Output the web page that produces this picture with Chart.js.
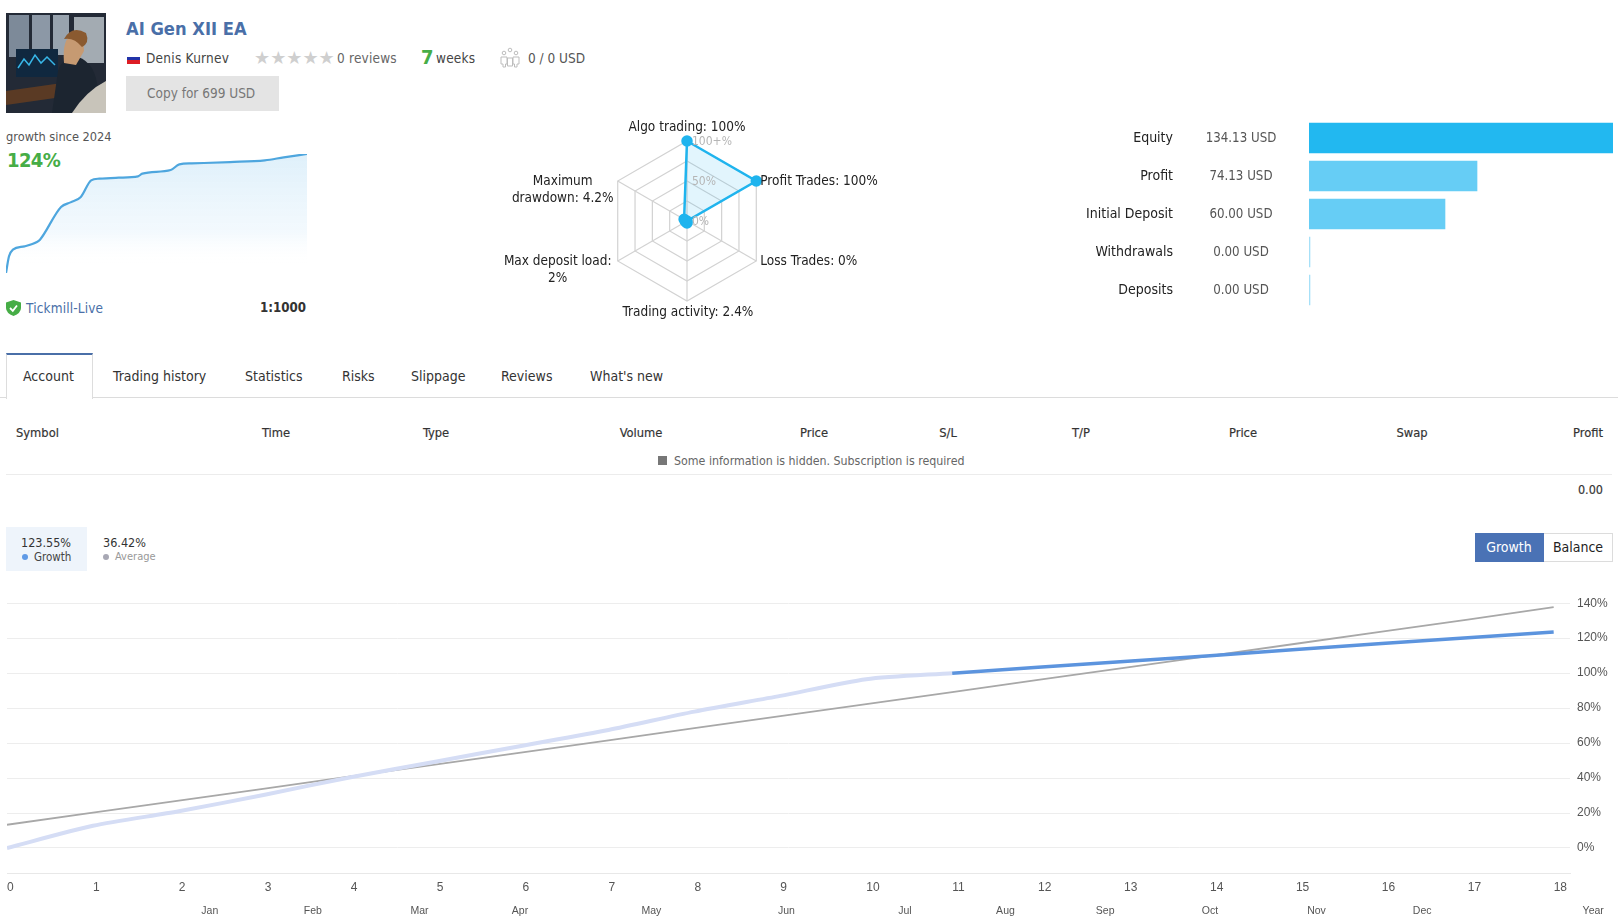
<!DOCTYPE html>
<html>
<head>
<meta charset="utf-8">
<title>AI Gen XII EA</title>
<script src="https://cdn.jsdelivr.net/npm/chart.js@4"></script>
<style>
html, body { margin: 0; padding: 0; background: #fff; }
body { position: relative; width: 1618px; height: 917px; overflow: hidden;
       font-family: "DejaVu Sans Condensed", "DejaVu Sans", sans-serif; font-size: 13.5px; color: #333; }
canvas { position: absolute; }
.t { position: absolute; white-space: nowrap; line-height: 16px; height: 16px; }
.c { transform: translateX(-50%); }
.r { transform: translateX(-100%); }
.head { font-weight: 400; color: #333; font-size: 12.8px; top: 425px; -webkit-text-stroke: 0.18px #333; }
.tab { top: 368px; color: #333; font-size: 14px; }
.box { position: absolute; }
</style>
</head>
<body>

<svg class="box" style="left:6px;top:13px" width="100" height="100" viewBox="0 0 100 100">
  <rect width="100" height="100" fill="#232a36"/>
  <rect x="3" y="2" width="20" height="42" fill="#7d8a99"/>
  <rect x="26" y="2" width="18" height="42" fill="#8c98a6"/>
  <rect x="47" y="2" width="16" height="40" fill="#98a3ae"/>
  <rect x="68" y="4" width="30" height="46" fill="#a3abb2"/>
  <rect x="10" y="36" width="42" height="28" fill="#10283f"/>
  <polyline points="12,55 18,46 23,52 29,42 35,50 41,44 49,52" fill="none" stroke="#38b7e8" stroke-width="1.500"/>
  <path d="M0 78 L56 70 L56 84 L0 92 Z" fill="#5a3a24"/>
  <path d="M46 100 L52 58 Q56 44 72 44 Q90 50 92 78 L92 100 Z" fill="#1c2530"/>
  <path d="M58 50 Q56 26 66 22 Q78 22 78 38 L70 52 Z" fill="#c69a72"/>
  <path d="M58 26 Q66 12 80 20 Q84 30 76 34 Q68 24 58 26 Z" fill="#8a5a30"/>
  <path d="M66 100 Q80 78 100 68 L100 100 Z" fill="#c8c4ba"/>
</svg>

<div class="t" style="left:126px;top:17px;height:24px;line-height:24px;font-size:18.200px;font-weight:700;color:#4a6fa8">AI Gen XII EA</div>
<div class="box" style="left:127px;top:57px;width:13px;height:3px;background:#2233a8"></div>
<div class="box" style="left:127px;top:60px;width:13px;height:4px;background:#dd1c24"></div>
<div class="t" style="left:146px;top:50px;color:#444;letter-spacing:0.25px">Denis Kurnev</div>
<div class="t" style="left:254px;top:50px;font-size:18px;color:#cfcfcf;font-family:'DejaVu Sans'">★★★★★</div>
<div class="t" style="left:337px;top:50px;color:#666;letter-spacing:0.2px">0 reviews</div>
<div class="t" style="left:421px;top:49px;font-size:20px;font-weight:700;color:#46ad46">7</div>
<div class="t" style="left:436px;top:50px;color:#444;letter-spacing:0.2px">weeks</div>
<svg class="box" style="left:500px;top:47px" width="20" height="21" viewBox="0 0 20 21" fill="none" stroke="#bdbdbd">
  <circle cx="10" cy="3" r="1.800"/><circle cx="4" cy="6" r="1.800"/><circle cx="16" cy="6" r="1.800"/>
  <path d="M1 10h6v7H5.500v3H3v-3H1zM7.500 11h5v8h-5zM13 10h6v7h-2v3h-2.500v-3H13z"/>
</svg>
<div class="t" style="left:528px;top:50px;color:#555">0 / 0 USD</div>
<div class="box" style="left:126px;top:76px;width:153px;height:35px;background:#e4e4e4"></div>
<div class="t" style="left:147px;top:85px;color:#777">Copy for 699 USD</div>

<div class="t" style="left:6px;top:129px;color:#555;font-size:12.700px">growth since 2024</div>
<div class="t" style="left:7px;top:148px;height:24px;line-height:24px;font-size:20px;font-weight:700;color:#46ad46;letter-spacing:-0.6px">124%</div>
<canvas id="sparkChart" style="left:6px;top:150px" width="301" height="124"></canvas>
<svg class="box" style="left:6px;top:300px" width="15" height="16" viewBox="0 0 15 16">
  <path d="M7.500 0 L15 2.500 V8 Q15 13 7.500 16 Q0 13 0 8 V2.500 Z" fill="#46ad46"/>
  <path d="M4 8 L6.800 10.800 L11 5.500" fill="none" stroke="#fff" stroke-width="1.800"/>
</svg>
<div class="t" style="left:26px;top:300px;color:#4a6fa8;letter-spacing:0.15px">Tickmill-Live</div>
<div class="t r" style="left:306px;top:300px;font-weight:700;color:#333;font-size:13.200px">1:1000</div>

<canvas id="radarChart" style="left:480px;top:110px" width="414" height="222"></canvas>
<canvas id="barChart" style="left:1060px;top:119px" width="553" height="190"></canvas>

<div class="box" style="left:6px;top:353px;width:85px;height:44px;border:1px solid #ddd;border-top:2px solid #4a6fa8;border-bottom:none;box-sizing:content-box;background:#fff;z-index:2"></div>
<div class="box" style="left:0;top:397px;width:1618px;height:1px;background:#dcdcdc"></div>
<div class="t tab" style="left:23px;z-index:3">Account</div>
<div class="t tab" style="left:113px">Trading history</div>
<div class="t tab" style="left:245px">Statistics</div>
<div class="t tab" style="left:342px">Risks</div>
<div class="t tab" style="left:411px">Slippage</div>
<div class="t tab" style="left:501px">Reviews</div>
<div class="t tab" style="left:590px">What's new</div>

<div class="t head" style="left:16px">Symbol</div>
<div class="t head c" style="left:276px">Time</div>
<div class="t head c" style="left:436px">Type</div>
<div class="t head c" style="left:641px">Volume</div>
<div class="t head c" style="left:814px">Price</div>
<div class="t head c" style="left:948px">S/L</div>
<div class="t head c" style="left:1081px">T/P</div>
<div class="t head c" style="left:1243px">Price</div>
<div class="t head c" style="left:1412px">Swap</div>
<div class="t head r" style="left:1603px">Profit</div>
<div class="box" style="left:658px;top:456px;width:9px;height:9px;background:#777"></div>
<div class="t" style="left:674px;top:453px;font-size:12.300px;color:#666">Some information is hidden. Subscription is required</div>
<div class="box" style="left:6px;top:474px;width:1606px;height:1px;background:#ececec"></div>
<div class="t r" style="left:1603px;top:482px;font-size:12.500px;color:#333;-webkit-text-stroke:0.15px #333">0.00</div>

<div class="box" style="left:6px;top:527px;width:81px;height:44px;background:#eef4fb"></div>
<div class="t c" style="left:46px;top:535px;font-size:12.500px;color:#333">123.55%</div>
<div class="box" style="left:22px;top:554px;width:6px;height:6px;border-radius:50%;background:#5f9ae6"></div>
<div class="t" style="left:34px;top:549px;font-size:11.500px;color:#444">Growth</div>
<div class="t" style="left:103px;top:535px;font-size:12.500px;color:#333">36.42%</div>
<div class="box" style="left:103px;top:554px;width:6px;height:6px;border-radius:50%;background:#a8a8b4"></div>
<div class="t" style="left:115px;top:549px;font-size:11px;color:#999">Average</div>

<div class="box" style="left:1475px;top:533px;width:69px;height:29px;background:#4a72b5"></div>
<div class="t c" style="left:1509px;top:539px;color:#fff;font-size:14px">Growth</div>
<div class="box" style="left:1544px;top:533px;width:68px;height:27px;border:1px solid #dcdcdc;border-left:none;background:#fff"></div>
<div class="t c" style="left:1578px;top:539px;color:#222;font-size:14px">Balance</div>

<canvas id="growthChart" style="left:0;top:589px" width="1618" height="328"></canvas>

<script>
// mini curve at the top left
const sparkWeeks = [0, 0.07, 0.16, 0.43, 0.72, 0.79, 1.28, 1.5, 1.74, 1.98, 2.17, 2.62, 3.07, 3.17, 3.83, 4.03, 4.32, 5.21, 6.02, 6.46, 7];
const sparkValues = [0, 17.4, 24.3, 27.8, 32.3, 34.7, 68.8, 73.6, 79.2, 96.5, 98.3, 99.3, 100.7, 103.5, 107.3, 113.2, 114.2, 115.6, 117.4, 120.5, 124];

// radar
const radarLabels = ['Algo trading: 100%', 'Profit Trades: 100%', 'Loss Trades: 0%', 'Trading activity: 2.4%', ['Max deposit load:', '2%'], ['Maximum', 'drawdown: 4.2%']];
const radarValues = [100, 100, 0, 2.4, 2, 4.2];
const radarTickValues = [100, 50, 0];
const radarTickLabels = ['100+%', '50%', '0%'];

// summary bars
const barLabels = ['Equity', 'Profit', 'Initial Deposit', 'Withdrawals', 'Deposits'];
const barValues = [134.13, 74.13, 60, 0, 0];
const barValueLabels = ['134.13 USD', '74.13 USD', '60.00 USD', '0.00 USD', '0.00 USD'];

// main growth chart
const weeks = [0, 1, 2, 3, 4, 5, 6, 7, 8, 9, 10, 11, 12, 13, 14, 15, 16, 17, 18];
const growthPast = [0, 12.7, 21, 30.5, 40.5, 49.5, 58.5, 67.5, 78, 87, 96.5, 100, null, null, null, null, null, null, null];
const growthNow = [null, null, null, null, null, null, null, null, null, null, null, 100, 103.4, 106.7, 110, 113.5, 116.9, 120.2, 123.55];
const averageLine = [13.3, 20.2, 27.1, 34, 40.9, 47.8, 54.7, 61.6, 68.5, 75.4, 82.3, 89.2, 96.1, 103, 109.9, 116.8, 123.7, 130.6, 137.7];
const yTicks = [0, 20, 40, 60, 80, 100, 120, 140];
const monthLabels = ['Jan', 'Feb', 'Mar', 'Apr', 'May', 'Jun', 'Jul', 'Aug', 'Sep', 'Oct', 'Nov', 'Dec', 'Year'];
const monthWeeks = [2.36, 3.56, 4.8, 5.97, 7.5, 9.07, 10.45, 11.62, 12.78, 14, 15.24, 16.47, 18.46];

const TEXT_FONT = '"DejaVu Sans Condensed", "DejaVu Sans", sans-serif';
const AXIS_FONT = '"Liberation Sans", Arial, sans-serif';

Chart.defaults.animation = false;
Chart.defaults.responsive = false;
Chart.defaults.plugins.legend.display = false;
Chart.defaults.plugins.tooltip.enabled = false;

new Chart(document.getElementById('sparkChart'), {
    type: 'line',
    data: {
        datasets: [{
            data: sparkWeeks.map((w, i) => ({ x: w, y: sparkValues[i] })),
            borderColor: '#4ea6de',
            borderWidth: 2.2,
            pointRadius: 0,
            cubicInterpolationMode: 'monotone',
            fill: 'origin',
            backgroundColor: function (context) {
                const area = context.chart.chartArea;
                if (!area) return 'transparent';
                const g = context.chart.ctx.createLinearGradient(0, area.top, 0, area.bottom - 8);
                g.addColorStop(0, 'rgba(205,232,248,0.65)');
                g.addColorStop(0.7, 'rgba(215,236,250,0.3)');
                g.addColorStop(1, 'rgba(255,255,255,0)');
                return g;
            }
        }]
    },
    options: {
        layout: { padding: { top: 4, bottom: 1 } },
        scales: {
            x: { type: 'linear', display: false, min: 0, max: 7 },
            y: { display: false, min: 0, max: 124 }
        }
    }
});

const radarTextPlugin = {
    id: 'radarText',
    afterDraw(chart) {
        const scale = chart.scales.r;
        const ctx = chart.ctx;
        ctx.save();
        ctx.font = '13.5px ' + TEXT_FONT;
        ctx.fillStyle = '#222';
        ctx.textBaseline = 'middle';
        // label placement around each corner of the hexagon, clockwise from the top
        const placement = [
            { align: 'center', dx: 0, dy: -14 },
            { align: 'left', dx: 4, dy: 0 },
            { align: 'left', dx: 4, dy: 0 },
            { align: 'center', dx: 1, dy: 11 },
            { align: 'center', dx: -60, dy: 0 },
            { align: 'center', dx: -55, dy: 0 }
        ];
        radarLabels.forEach((label, i) => {
            const p = scale.getPointPosition(i, scale.drawingArea);
            const lines = [].concat(label);
            ctx.textAlign = placement[i].align;
            lines.forEach((line, n) => ctx.fillText(line, p.x + placement[i].dx, p.y + placement[i].dy + n * 17));
        });
        ctx.font = '12px ' + TEXT_FONT;
        ctx.fillStyle = '#b5b5b5';
        ctx.textAlign = 'left';
        radarTickValues.forEach((v, i) => {
            const p = scale.getPointPositionForValue(0, v);
            ctx.fillText(radarTickLabels[i], p.x + 5, p.y + 1);
        });
        ctx.restore();
    }
};

new Chart(document.getElementById('radarChart'), {
    type: 'radar',
    data: {
        labels: radarLabels,
        datasets: [{
            data: radarValues,
            borderColor: '#1fb4ee',
            borderWidth: 2.5,
            backgroundColor: 'rgba(31,180,238,0.13)',
            pointBackgroundColor: '#1fb4ee',
            pointBorderColor: '#1fb4ee',
            pointRadius: 4.5,
            fill: true
        }]
    },
    options: {
        layout: { padding: { top: 31, bottom: 31 } },
        scales: {
            r: {
                min: 0,
                max: 100,
                ticks: { display: false, stepSize: 25 },
                grid: { color: '#d2d2d2', lineWidth: 1.2 },
                angleLines: { color: '#d2d2d2', lineWidth: 1.2 },
                pointLabels: { display: false }
            }
        }
    },
    plugins: [radarTextPlugin]
});

const barTextPlugin = {
    id: 'barText',
    afterDraw(chart) {
        const ctx = chart.ctx;
        const yScale = chart.scales.y;
        ctx.save();
        ctx.textBaseline = 'middle';
        barLabels.forEach((label, i) => {
            const y = yScale.getPixelForValue(i);
            ctx.font = '14px ' + TEXT_FONT;
            ctx.fillStyle = '#222';
            ctx.textAlign = 'right';
            ctx.fillText(label, 113, y);
            ctx.font = '13.2px ' + TEXT_FONT;
            ctx.fillStyle = '#555';
            ctx.textAlign = 'center';
            ctx.fillText(barValueLabels[i], 181, y + 0.7);
        });
        ctx.restore();
    }
};

new Chart(document.getElementById('barChart'), {
    type: 'bar',
    data: {
        labels: barLabels,
        datasets: [{
            data: barValues,
            backgroundColor: ['#22b8f0', '#66cdf5', '#66cdf5', '#a6e0f8', '#a6e0f8'],
            barThickness: 30,
            minBarLength: 1
        }]
    },
    options: {
        indexAxis: 'y',
        layout: { padding: { left: 249 } },
        scales: {
            x: { display: false, min: 0, max: 134.13 },
            y: { display: false }
        }
    },
    plugins: [barTextPlugin]
});

new Chart(document.getElementById('growthChart'), {
    type: 'line',
    data: {
        datasets: [
            {
                label: 'Average',
                data: weeks.map((w, i) => ({ x: w, y: averageLine[i] })),
                borderColor: '#a8a8a8',
                borderWidth: 1.8,
                pointRadius: 0,
                order: 3
            },
            {
                label: 'Growth',
                data: weeks.map((w, i) => ({ x: w, y: growthPast[i] })),
                borderColor: '#d5ddf5',
                borderWidth: 4,
                pointRadius: 0,
                tension: 0.25,
                order: 2
            },
            {
                label: 'Growth',
                data: weeks.map((w, i) => ({ x: w, y: growthNow[i] })),
                borderColor: '#5c94de',
                borderWidth: 3.5,
                pointRadius: 0,
                order: 1
            }
        ]
    },
    options: {
        layout: { padding: { left: 7, top: 2 } },
        scales: {
            x: {
                type: 'linear',
                min: 0,
                max: 18.19,
                weight: 1,
                grid: { display: false, drawTicks: false },
                border: { color: '#e8e8e8' },
                afterFit(scale) { scale.height = 25; },
                ticks: {
                    stepSize: 1,
                    includeBounds: false,
                    align: 'start',
                    maxRotation: 0,
                    autoSkip: false,
                    padding: 7,
                    color: '#555',
                    font: { family: AXIS_FONT, size: 12 }
                }
            },
            months: {
                type: 'linear',
                position: 'bottom',
                min: 0,
                max: 18.19,
                weight: 2,
                grid: { display: false, drawTicks: false },
                border: { display: false },
                afterBuildTicks(scale) { scale.ticks = monthWeeks.map(v => ({ value: v })); },
                afterFit(scale) { scale.height = 19; },
                ticks: {
                    callback: (v, i) => monthLabels[i],
                    maxRotation: 0,
                    autoSkip: false,
                    padding: 7,
                    color: '#555',
                    font: { family: AXIS_FONT, size: 10.5 }
                }
            },
            y: {
                position: 'right',
                min: -14.3,
                max: 140,
                grid: { color: '#ededed', drawTicks: false },
                border: { display: false },
                afterBuildTicks(scale) { scale.ticks = yTicks.map(v => ({ value: v })); },
                afterFit(scale) { scale.width = 48; },
                ticks: {
                    callback: v => v + '%',
                    padding: 7,
                    color: '#555',
                    font: { family: AXIS_FONT, size: 12 }
                }
            }
        }
    }
});
</script>
</body>
</html>
